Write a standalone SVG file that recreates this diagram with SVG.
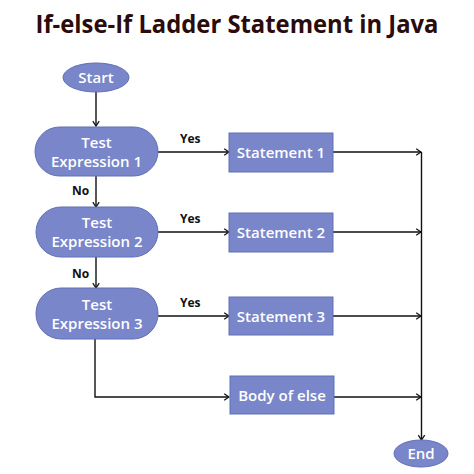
<svg xmlns="http://www.w3.org/2000/svg" width="474" height="474" viewBox="0 0 474 474">
<style>
.n{fill:#7986c9;stroke:#6170b5;stroke-width:1}
.t{fill:#fff;font-family:"Open Sans",sans-serif;font-weight:600;font-size:15px;text-anchor:middle}
.l{fill:#111;font-family:"Open Sans",sans-serif;font-weight:700;font-size:12px}
.c{fill:none;stroke:#111;stroke-width:1.4}
</style>
<defs>
<marker id="a" viewBox="0 0 10 10" refX="9" refY="5" markerWidth="8" markerHeight="8" markerUnits="userSpaceOnUse" orient="auto">
<polyline points="3,1 9,5 3,9" fill="none" stroke="#111" stroke-width="1.6"/>
</marker>
</defs>
<rect width="474" height="474" fill="#fff"/>
<text x="237" y="33" font-family="'Open Sans',sans-serif" font-weight="700" font-size="25" fill="#2b0b0b" text-anchor="middle" textLength="403" lengthAdjust="spacingAndGlyphs">If-else-If Ladder Statement in Java</text>
<g id="connectors">
<line class="c" x1="96" y1="92" x2="96" y2="126" marker-end="url(#a)"/>
<line class="c" x1="158" y1="152" x2="229" y2="152" marker-end="url(#a)"/>
<line class="c" x1="96" y1="176" x2="96" y2="207" marker-end="url(#a)"/>
<line class="c" x1="158" y1="232" x2="229" y2="232" marker-end="url(#a)"/>
<line class="c" x1="96" y1="257" x2="96" y2="288" marker-end="url(#a)"/>
<line class="c" x1="158" y1="316" x2="229" y2="316" marker-end="url(#a)"/>
<polyline class="c" points="95,339 95,397 229,397" marker-end="url(#a)"/>
<line class="c" x1="333" y1="152" x2="421" y2="152" marker-end="url(#a)"/>
<line class="c" x1="333" y1="232" x2="421" y2="232" marker-end="url(#a)"/>
<line class="c" x1="333" y1="316" x2="421" y2="316" marker-end="url(#a)"/>
<line class="c" x1="334" y1="397" x2="421" y2="397" marker-end="url(#a)"/>
<line class="c" x1="421.5" y1="152" x2="421.5" y2="440" marker-end="url(#a)"/>
<text class="l" x="180" y="143">Yes</text>
<text class="l" x="180" y="223">Yes</text>
<text class="l" x="180" y="307">Yes</text>
<text class="l" x="72" y="195">No</text>
<text class="l" x="72" y="278">No</text>
</g>
<g id="start"><ellipse class="n" cx="96" cy="77.5" rx="33" ry="14.5"/><text class="t" x="96" y="83">Start</text></g>
<g id="test1"><rect class="n" x="35" y="127" width="123" height="49" rx="24.5"/><text class="t" x="96.5" y="148">Test</text><text class="t" x="96.5" y="167">Expression 1</text></g>
<g id="test2"><rect class="n" x="36" y="207" width="122" height="50" rx="25"/><text class="t" x="97" y="228">Test</text><text class="t" x="97" y="247">Expression 2</text></g>
<g id="test3"><rect class="n" x="36" y="288" width="122" height="51" rx="25"/><text class="t" x="97" y="310">Test</text><text class="t" x="97" y="329">Expression 3</text></g>
<g id="stmt1"><rect class="n" x="229" y="133" width="104" height="39"/><text class="t" x="281" y="158">Statement 1</text></g>
<g id="stmt2"><rect class="n" x="229" y="213" width="104" height="39"/><text class="t" x="281" y="238">Statement 2</text></g>
<g id="stmt3"><rect class="n" x="229" y="297" width="104" height="38"/><text class="t" x="281" y="322">Statement 3</text></g>
<g id="else"><rect class="n" x="230" y="376" width="104" height="38"/><text class="t" x="282" y="401">Body of else</text></g>
<g id="end"><ellipse class="n" cx="421" cy="453.5" rx="27" ry="13.5"/><text class="t" x="421" y="459">End</text></g>
</svg>
